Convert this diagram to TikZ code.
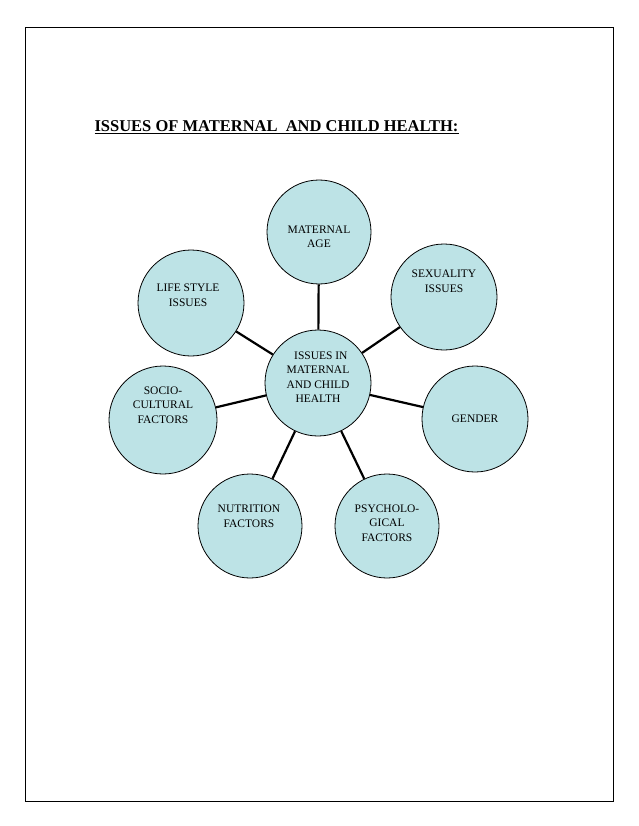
\documentclass[tikz,border=0pt]{standalone}
\usepackage{fontspec}
\setmainfont{Liberation Serif}
\begin{document}
\begin{tikzpicture}[x=1pt,y=-1pt,
  bub/.style={circle,draw=black,fill=bubfill,line width=0.8pt,inner sep=0pt},
  lbl/.style={align=center,font=\fontsize{11.5}{14.5}\selectfont},
  conn/.style={line width=2.2pt}]
\definecolor{bubfill}{HTML}{BDE3E6}
\useasboundingbox (0,0) rectangle (638,826);
\draw[line width=0.8pt] (25,27) rectangle (613,801);
\node[anchor=west,font=\fontsize{16.5}{18}\selectfont\bfseries] (title) at (91,127) {\underline{ISSUES OF MATERNAL\ \ AND CHILD\ HEALTH:}};
\node[bub,minimum size=106pt] (c) at (318,383) {};
\node[bub,minimum size=104pt] (ma) at (319,232) {};
\node[bub,minimum size=106pt] (sx) at (444,297) {};
\node[bub,minimum size=106pt] (ge) at (475,419) {};
\node[bub,minimum size=104pt] (ps) at (387,526) {};
\node[bub,minimum size=104pt] (nu) at (250,526) {};
\node[bub,minimum size=108pt] (so) at (163,420) {};
\node[bub,minimum size=106pt] (ls) at (191,303) {};
\foreach \n in {ma,sx,ge,ps,nu,so,ls} \draw[conn] (c) -- (\n);
\node[lbl] (tc) at (318,377) {\ \ ISSUES IN\\MATERNAL\\AND CHILD\\HEALTH};
\node[lbl] (tma) at (319,237) {MATERNAL\\AGE};
\node[lbl] (tsx) at (444,281) {SEXUALITY\\ISSUES};
\node[lbl] (tge) at (475,419) {GENDER};
\node[lbl] (tps) at (387,523) {PSYCHOLO-\\GICAL\\FACTORS};
\node[lbl] (tnu) at (249,516) {NUTRITION\\FACTORS};
\node[lbl] (tso) at (163,405) {SOCIO-\\CULTURAL\\FACTORS};
\node[lbl] (tls) at (188,295) {LIFE STYLE\\ISSUES};
\end{tikzpicture}
\end{document}
